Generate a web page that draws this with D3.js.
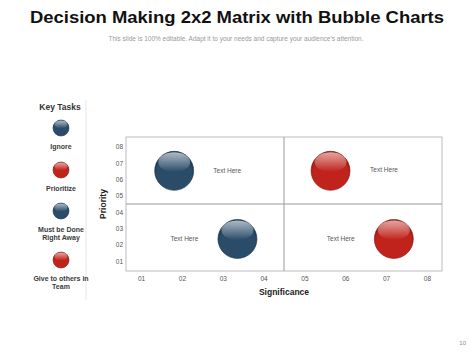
<!DOCTYPE html>
<html>
<head>
<meta charset="utf-8">
<script src="https://cdn.jsdelivr.net/npm/d3@7"></script>
<style>
  body { margin: 0; background: #fff; }
  svg text { font-family: "Liberation Sans", Arial, sans-serif; }
</style>
</head>
<body>
<div id="chart"></div>
<script>
// data
var tasks = ['Ignore', 'Prioritize', 'Must be Done|Right Away', 'Give to others in|Team']
var taskColors = ['dark', 'red', 'dark', 'red']
var bubbleX = [1.81, 5.64, 3.36, 7.19]
var bubbleY = [6.53, 6.53, 2.36, 2.36]
var bubbleSize = [9.5, 9.5, 9.5, 9.5]
var bubbleColor = ['dark', 'red', 'dark', 'red']
var labelX = [3.11, 6.95, 2.06, 5.89]
var labelY = [6.53, 6.6, 2.36, 2.36]
var labelText = ['Text Here', 'Text Here', 'Text Here', 'Text Here']
var xTicks = [1, 2, 3, 4, 5, 6, 7, 8]
var yTicks = [1, 2, 3, 4, 5, 6, 7, 8]

var width = 474, height = 355

var svg = d3.select('#chart').append('svg')
  .attr('width', width)
  .attr('height', height)

var palette = {
  dark: { base: '#2b4c68', edge: '#16304a', hi: '#c8d2dc' },
  red: { base: '#bf231c', edge: '#8a1410', hi: '#f0c0bb' }
}

var defs = svg.append('defs')
Object.keys(palette).forEach(function(k) {
  var p = palette[k]
  var rg = defs.append('radialGradient').attr('id', 'fill-' + k)
    .attr('cx', '50%').attr('cy', '60%').attr('r', '60%')
  rg.append('stop').attr('offset', '0%').attr('stop-color', p.base)
  rg.append('stop').attr('offset', '75%').attr('stop-color', p.base)
  rg.append('stop').attr('offset', '100%').attr('stop-color', p.edge)
  var lg = defs.append('linearGradient').attr('id', 'gloss-' + k)
    .attr('x1', 0).attr('y1', 0).attr('x2', 0).attr('y2', 1)
  lg.append('stop').attr('offset', '0%').attr('stop-color', p.hi).attr('stop-opacity', 0.85)
  lg.append('stop').attr('offset', '100%').attr('stop-color', p.hi).attr('stop-opacity', 0)
})

function bubble(g, cx, cy, r, k) {
  g.append('circle')
    .attr('cx', cx).attr('cy', cy).attr('r', r)
    .attr('fill', 'url(#fill-' + k + ')')
    .attr('stroke', palette[k].edge).attr('stroke-width', 0.6)
  g.append('ellipse')
    .attr('cx', cx).attr('cy', cy - r * 0.45)
    .attr('rx', r * 0.82).attr('ry', r * 0.5)
    .attr('fill', 'url(#gloss-' + k + ')')
}

// title
svg.append('text')
  .attr('x', width / 2).attr('y', 23)
  .attr('text-anchor', 'middle')
  .attr('textLength', 414)
  .attr('lengthAdjust', 'spacingAndGlyphs')
  .style('font-weight', 'bold')
  .style('font-size', '16px')
  .style('fill', '#111')
  .text('Decision Making 2x2 Matrix with Bubble Charts')

svg.append('text')
  .attr('x', 236).attr('y', 41)
  .attr('text-anchor', 'middle')
  .attr('textLength', 255)
  .attr('lengthAdjust', 'spacingAndGlyphs')
  .style('font-size', '6.5px')
  .style('fill', '#999')
  .text('This slide is 100% editable. Adapt it to your needs and capture your audience\u2019s attention.')

// legend panel
var legend = svg.append('g')
legend.append('line')
  .attr('x1', 86).attr('x2', 86).attr('y1', 100).attr('y2', 300)
  .attr('stroke', '#eee').attr('stroke-width', 1.5)

legend.append('text')
  .attr('x', 60).attr('y', 110)
  .attr('text-anchor', 'middle')
  .style('font-weight', 'bold').style('font-size', '8.5px').style('fill', '#333')
  .text('Key Tasks')

var legendYs = [128, 170, 211, 260]
tasks.forEach(function(t, i) {
  var cy = legendYs[i]
  bubble(legend, 61, cy, 8, taskColors[i])
  var lines = t.split('|')
  lines.forEach(function(line, j) {
    legend.append('text')
      .attr('x', 61).attr('y', cy + 21 + j * 8)
      .attr('text-anchor', 'middle')
      .style('font-weight', 'bold').style('font-size', '7px').style('fill', '#3a3a3a')
      .text(line)
  })
})

// matrix
var plot = { left: 126, right: 442, top: 137, bottom: 271 }

var xScale = d3.scaleLinear().domain([0.63, 8.37]).range([plot.left, plot.right])
var yScale = d3.scaleLinear().domain([0.4, 8.6]).range([plot.bottom, plot.top])
var rScale = d3.scaleSqrt().domain([0, 10]).range([0, 20])

svg.append('rect')
  .attr('x', plot.left).attr('y', plot.top)
  .attr('width', plot.right - plot.left).attr('height', plot.bottom - plot.top)
  .attr('fill', 'none').attr('stroke', '#bbb').attr('stroke-width', 1)

svg.append('line')
  .attr('x1', xScale(4.5)).attr('x2', xScale(4.5))
  .attr('y1', plot.top).attr('y2', plot.bottom)
  .attr('stroke', '#999').attr('stroke-width', 1)

svg.append('line')
  .attr('x1', plot.left).attr('x2', plot.right)
  .attr('y1', yScale(4.5)).attr('y2', yScale(4.5))
  .attr('stroke', '#999').attr('stroke-width', 1)

var fmt = function(d) { return '0' + d }

var xAxis = svg.append('g')
  .attr('transform', `translate(0, ${plot.bottom + 1})`)
  .call(d3.axisBottom(xScale).tickValues(xTicks).tickFormat(fmt).tickSize(0).tickPadding(4))
xAxis.select('.domain').remove()
xAxis.selectAll('text').style('font-size', '6.5px').style('fill', '#555')
  .style('font-family', '"Liberation Sans", Arial, sans-serif')

var yAxis = svg.append('g')
  .attr('transform', `translate(${plot.left - 3}, 0)`)
  .call(d3.axisLeft(yScale).tickValues(yTicks).tickFormat(fmt).tickSize(0).tickPadding(0))
yAxis.select('.domain').remove()
yAxis.selectAll('text').style('font-size', '6.5px').style('fill', '#555')
  .style('font-family', '"Liberation Sans", Arial, sans-serif')

svg.append('text')
  .attr('transform', `translate(106, ${yScale(4.5)}) rotate(-90)`)
  .attr('text-anchor', 'middle')
  .style('font-weight', 'bold').style('font-size', '8.5px').style('fill', '#222')
  .text('Priority')

svg.append('text')
  .attr('x', xScale(4.5)).attr('y', 295)
  .attr('text-anchor', 'middle')
  .style('font-weight', 'bold').style('font-size', '8.5px').style('fill', '#222')
  .text('Significance')

// bubbles
var bubbles = svg.append('g')
bubbleX.forEach(function(v, i) {
  bubble(bubbles, xScale(v), yScale(bubbleY[i]), rScale(bubbleSize[i]), bubbleColor[i])
})

// labels
svg.selectAll('.lbl')
  .data(labelText)
  .enter()
  .append('text')
  .attr('class', 'lbl')
  .attr('x', (d, i) => xScale(labelX[i]))
  .attr('y', (d, i) => yScale(labelY[i]) + 2.5)
  .attr('text-anchor', 'middle')
  .style('font-size', '6.5px').style('fill', '#555')
  .text(d => d)

// page number
svg.append('text')
  .attr('x', 466).attr('y', 345)
  .attr('text-anchor', 'end')
  .style('font-size', '6px').style('fill', '#888')
  .text('10')
</script>
</body>
</html>
